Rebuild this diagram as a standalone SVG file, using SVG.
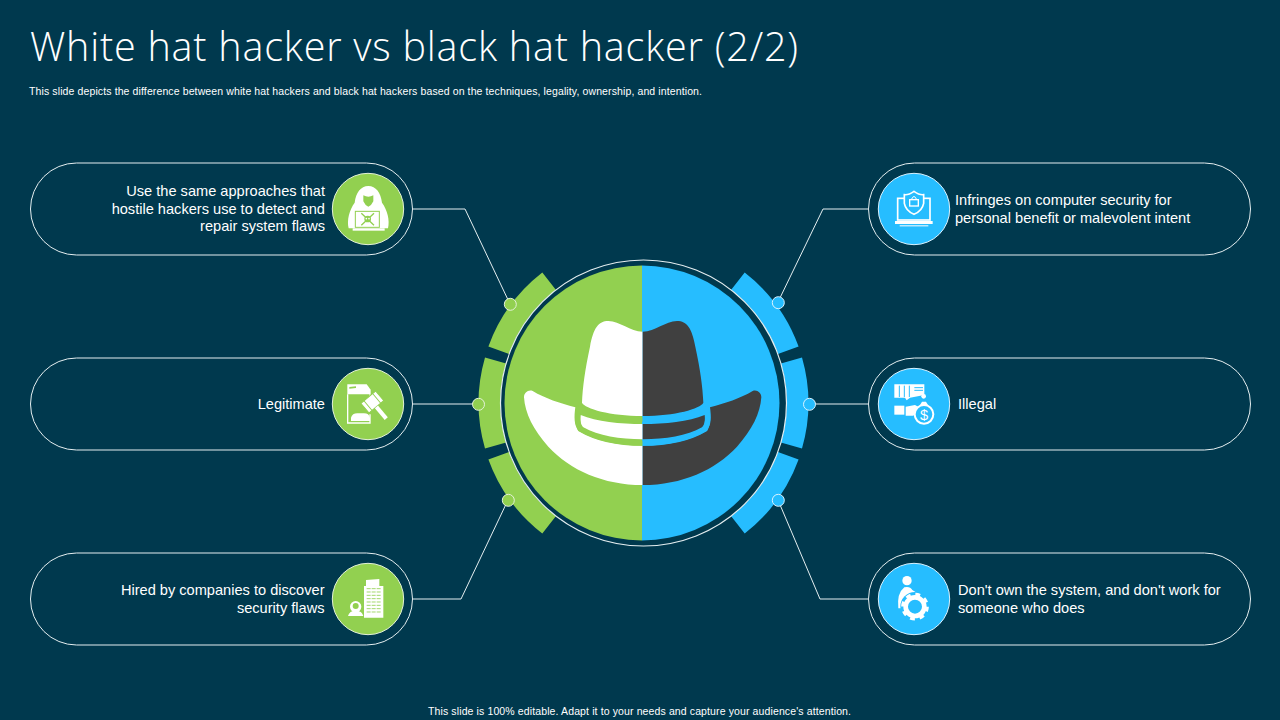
<svg xmlns="http://www.w3.org/2000/svg" width="1280" height="720" viewBox="0 0 1280 720">
<style>
.t{font-family:"Liberation Sans",Arial,sans-serif;fill:#fff}
.lab{font-size:14.6px}
.r{text-anchor:end}
.pill{fill:none;stroke:#e4eef0;stroke-width:1}
.ln{fill:none;stroke:#e4eef0;stroke-width:1}
.gc{fill:#92d050;stroke:#e4f2d8;stroke-width:1}
.bc{fill:#26bdff;stroke:#d8f2ff;stroke-width:1}
.w{fill:#fff}
.gs{fill:#92d050}
.bs{fill:#26bdff}
</style>
<defs>
<g id="hatCrown"><path d="M518,245C480,245 450,213 415,213C385,213 370,235 360,290C345,360 338,410 336,458C345,476 420,498 518,498Z"/><path d="M332,495C380,515 450,522 518,522L518,568C450,568 385,558 340,532C332,525 330,510 332,495Z"/></g>
<path id="hatBrim" d="M518,705C400,705 300,660 235,590C190,540 165,490 162,442C162,428 175,418 188,423C225,445 270,460 316,472C312,500 312,525 325,542C375,572 450,587 518,587Z"/>
<path id="hatBand" fill="none" stroke-width="15" d="M518,508C440,508 380,498 325,476C322,500 320,520 330,537C380,567 450,580 518,580"/>
</defs>
<rect width="1280" height="720" fill="#00394e"/>
<text x="30" y="61" font-family="'Open Sans','Noto Sans',sans-serif" font-size="39.500" font-weight="300" fill="#fff" textLength="768" lengthAdjust="spacing">White hat hacker vs black hat hacker (2/2)</text>
<text class="t" x="29" y="95" font-size="10.5" textLength="673">This slide depicts the difference between white hat hackers and black hat hackers based on the techniques, legality,  ownership, and intention.</text>
<text class="t" x="428" y="715" font-size="10.5" textLength="423">This slide is 100% editable.  Adapt it to your needs and capture your audience's attention.</text>

<g id="connectors">
<polyline class="ln" points="413,209 465,209 510,304"/>
<polyline class="ln" points="413,404 478,404"/>
<polyline class="ln" points="413,599 461,599 508,500"/>
<polyline class="ln" points="868,209 823,209 778,302"/>
<polyline class="ln" points="868,404 809,404"/>
<polyline class="ln" points="868,599 820,599 778,500"/>
</g>

<g id="hub">
<path class="gs" d="M542.3,272.5A165,165 0 0 0 488.4,346.5L509.1,354A143,143 0 0 1 556,289.9Z"/>
<path class="gs" d="M485,357.5A165,165 0 0 0 485,448.5L506.1,442.4A143,143 0 0 1 506.1,363.6Z"/>
<path class="gs" d="M488.4,459.5A165,165 0 0 0 542.3,533.5L556,516.1A143,143 0 0 1 509.1,452Z"/>
<path class="bs" d="M744.7,272.5A165,165 0 0 1 798.6,346.5L777.9,354A143,143 0 0 0 731,289.9Z"/>
<path class="bs" d="M802,357.5A165,165 0 0 1 802,448.5L780.9,442.4A143,143 0 0 0 780.9,363.6Z"/>
<path class="bs" d="M798.6,459.5A165,165 0 0 1 744.7,533.5L731,516.1A143,143 0 0 0 777.9,452Z"/>
<circle cx="643.5" cy="403" r="143" fill="#00394e" stroke="#e4eef0" stroke-width="1.2"/>
<path class="gs" d="M642,265.500A137.500,137.500 0 0 0 642,540.500Z"/>
<path class="bs" d="M642,265.500A137.500,137.500 0 1 1 642,540.500Z"/>
<g id="hat" transform="translate(470,250) scale(.33333)">
<g fill="#fff"><use href="#hatCrown"/><use href="#hatBrim"/></g>
<use href="#hatBand" stroke="#92d050"/>
<g transform="matrix(-1 0 0 1 1036 0)"><g fill="#404040"><use href="#hatCrown"/><use href="#hatBrim"/></g><use href="#hatBand" stroke="#26bdff"/></g>
</g>
</g>

<g id="dots">
<circle class="gc" cx="510.3" cy="304.3" r="6"/>
<circle class="gc" cx="478.5" cy="404.3" r="6"/>
<circle class="gc" cx="508.3" cy="500.3" r="6"/>
<circle class="bc" cx="778.3" cy="302.7" r="6"/>
<circle class="bc" cx="809.5" cy="404.3" r="6"/>
<circle class="bc" cx="778.3" cy="500.3" r="6"/>
</g>

<g id="node-left-1">
<rect class="pill" x="30.500" y="163" width="382" height="92" rx="46"/>
<circle class="gc" cx="368" cy="209" r="35.700"/>
<g transform="translate(320,160) scale(.33333)">
<path class="w" d="M145,78C122,78 108,98 104,128C88,150 80,180 86,205L204,205C210,180 202,150 186,128C182,98 168,78 145,78Z"/>
<path class="gs" d="M130,106Q145,114 160,106L160,124Q155,136 145,140Q135,136 130,124Z"/>
<rect x="106" y="154" width="72" height="48" fill="#fff" stroke="#92d050" stroke-width="3"/>
<rect x="98" y="205" width="96" height="7" class="w"/>
<path d="M124,160L162,196M162,160L124,196" stroke="#92d050" stroke-width="4" fill="none"/>
<circle cx="143" cy="177" r="10" class="gs"/>
<circle cx="139" cy="176" r="2.500" class="w"/><circle cx="147" cy="176" r="2.500" class="w"/>
</g>
<text class="t lab r" x="325" y="196">Use the same approaches that</text>
<text class="t lab r" x="325" y="214">hostile hackers use to detect and</text>
<text class="t lab r" x="325" y="231">repair system flaws</text>
</g>

<g id="node-left-2">
<rect class="pill" x="30.500" y="358" width="382" height="92" rx="46"/>
<circle class="gc" cx="368" cy="404" r="35.700"/>
<g transform="translate(320,355) scale(.33333)">
<path class="w" d="M82,88L140,88L152,104L152,118L82,118Z"/>
<path d="M83,118L83,204L150,204L150,178M150,118L150,124" fill="none" stroke="#fff" stroke-width="4"/>
<path class="gs" d="M88,96L108,94L108,99L88,101Z"/>
<path class="w" d="M93,188Q97,175 112,175L132,175Q147,175 150,188L150,198L93,198Z"/>
<g transform="rotate(-40 157 141)">
<rect x="128" y="122" width="58" height="38" class="w" stroke="#92d050" stroke-width="3"/>
<path d="M140,122V160M174,122V160" stroke="#92d050" stroke-width="3"/>
<rect x="151" y="160" width="12" height="46" class="w"/>
</g>
</g>
<text class="t lab r" x="325" y="409">Legitimate</text>
</g>

<g id="node-left-3">
<rect class="pill" x="30.500" y="553" width="382" height="92" rx="46"/>
<circle class="gc" cx="368" cy="599" r="35.700"/>
<g transform="translate(320,550) scale(.33333)">
<path class="w" d="M138,90L178,87L178,108L190,108L190,203L132,203L132,108L138,108Z"/>
<path d="M140,116H182M140,126H182M140,136H182M140,146H182M140,156H182M140,166H182M140,176H182M140,186H182" stroke="#92d050" stroke-width="2.500" stroke-dasharray="12 3" fill="none"/>
<circle cx="107" cy="170" r="17" class="w"/>
<circle cx="107" cy="168" r="9" class="gs"/>
<path class="w" d="M84,198Q88,182 107,182Q126,182 130,198Z"/>
</g>
<text class="t lab r" x="324.500" y="595">Hired by companies to discover</text>
<text class="t lab r" x="324.500" y="613">security flaws</text>
</g>

<g id="node-right-1">
<rect class="pill" x="868.500" y="163" width="382" height="92" rx="46"/>
<circle class="bc" cx="914" cy="209" r="35.700"/>
<g transform="translate(865,160) scale(.33333)">
<rect x="98" y="115" width="97" height="65" fill="none" stroke="#fff" stroke-width="5"/>
<rect x="90" y="183" width="113" height="9" class="w"/>
<rect x="104" y="196" width="86" height="3" class="w"/>
<path d="M147,94Q130,106 118,104L118,130Q122,152 147,163Q172,152 176,130L176,104Q164,106 147,94Z" fill="#26bdff" stroke="#fff" stroke-width="5"/>
<rect x="134" y="119" width="26" height="19" fill="none" stroke="#fff" stroke-width="4"/>
<path d="M139,119Q147,100 155,119" fill="none" stroke="#fff" stroke-width="3"/>
</g>
<text class="t lab" x="955" y="205">Infringes on computer security for</text>
<text class="t lab" x="955" y="223">personal benefit or malevolent intent</text>
</g>

<g id="node-right-2">
<rect class="pill" x="868.500" y="358" width="382" height="92" rx="46"/>
<circle class="bc" cx="914" cy="404" r="35.700"/>
<g transform="translate(865,355) scale(.33333)">
<path class="w" d="M88,88L178,88L178,120L135,128L125,136L120,128L88,128Z"/>
<path d="M103,92V126M118,92V126M133,92V126M148,98H174M148,106H174" stroke="#26bdff" stroke-width="3" fill="none"/>
<rect x="88" y="152" width="30" height="27" class="w"/>
<path class="w" d="M122,155L150,150L165,158L145,182L122,182Z"/>
<circle cx="176" cy="124" r="7" class="w"/>
<path class="w" d="M165,150L189,150L183,140L171,140Z"/>
<circle cx="177" cy="178" r="28" fill="#26bdff" stroke="#fff" stroke-width="6"/>
<text x="177" y="194" font-family="'Liberation Sans',Arial,sans-serif" font-size="44" text-anchor="middle" fill="#fff">$</text>
</g>
<text class="t lab" x="958" y="409">Illegal</text>
</g>

<g id="node-right-3">
<rect class="pill" x="868.500" y="553" width="382" height="92" rx="46"/>
<circle class="bc" cx="914" cy="599" r="35.700"/>
<g transform="translate(865,550) scale(.33333)">
<circle cx="126" cy="92" r="14" class="w"/>
<path class="w" d="M100,175Q95,130 118,112Q135,108 142,120L155,128L128,140L118,155L110,175Z"/>
<circle cx="150" cy="170" r="44" class="bs"/>
<circle cx="150" cy="170" r="28" fill="none" stroke="#fff" stroke-width="14"/>
<circle cx="150" cy="170" r="37" fill="none" stroke="#fff" stroke-width="9" stroke-dasharray="14.500 14.560"/>
</g>
<text class="t lab" x="958" y="595">Don't own the system, and don't work for</text>
<text class="t lab" x="958" y="613">someone who does</text>
</g>
</svg>
